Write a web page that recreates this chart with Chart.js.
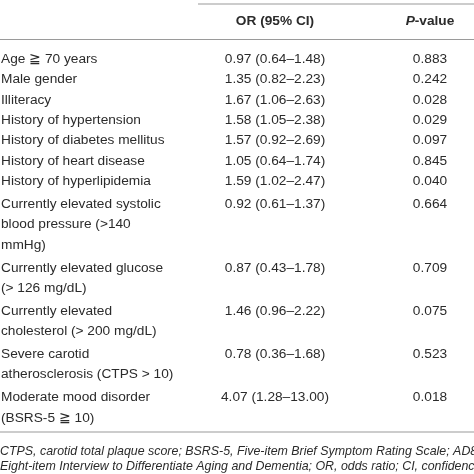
<!DOCTYPE html>
<html><head><meta charset="utf-8">
<script src="https://cdn.jsdelivr.net/npm/chart.js@4"></script>
<style>html,body{margin:0;padding:0;background:#fff}#w{width:474px;height:474px}</style>
</head><body><div id="w"><canvas id="c"></canvas></div>
<script>
const variables = [
  ["Age \u2267 70 years"],
  ["Male gender"],
  ["Illiteracy"],
  ["History of hypertension"],
  ["History of diabetes mellitus"],
  ["History of heart disease"],
  ["History of hyperlipidemia"],
  ["Currently elevated systolic","blood pressure (>140","mmHg)"],
  ["Currently elevated glucose","(> 126 mg/dL)"],
  ["Currently elevated","cholesterol (> 200 mg/dL)"],
  ["Severe carotid","atherosclerosis (CTPS > 10)"],
  ["Moderate mood disorder","(BSRS-5 \u2267 10)"]
];
const orCI = ["0.97 (0.64\u20131.48)","1.35 (0.82\u20132.23)","1.67 (1.06\u20132.63)","1.58 (1.05\u20132.38)","1.57 (0.92\u20132.69)","1.05 (0.64\u20131.74)","1.59 (1.02\u20132.47)","0.92 (0.61\u20131.37)","0.87 (0.43\u20131.78)","1.46 (0.96\u20132.22)","0.78 (0.36\u20131.68)","4.07 (1.28\u201313.00)"];
const pValues = ["0.883","0.242","0.028","0.029","0.097","0.845","0.040","0.664","0.709","0.075","0.523","0.018"];
const headers = ["", "OR (95% CI)", "P-value"];
const footnotes = ["CTPS, carotid total plaque score; BSRS-5, Five-item Brief Symptom Rating Scale; AD8,","Eight-item Interview to Differentiate Aging and Dementia; OR, odds ratio; CI, confidence"];

const tablePlugin = {
  id: 'table',
  afterDraw(chart) {
    const ctx = chart.ctx, xs = chart.scales.x, ys = chart.scales.y;
    const X = v => xs.getPixelForValue(v), Y = v => ys.getPixelForValue(v);
    ctx.save();
    ctx.textBaseline = 'middle';
    ctx.fillStyle = '#2b2b2b';
    const F = '13.7px "Liberation Sans", Arial, sans-serif';
    ctx.strokeStyle = '#9a9a9a'; ctx.lineWidth = 1.2;
    const rule = (x0, x1, y) => { ctx.beginPath(); ctx.moveTo(X(x0), Y(y)); ctx.lineTo(X(x1), Y(y)); ctx.stroke(); };
    rule(198, 474, 4); rule(0, 474, 39.5); rule(0, 474, 432);
    ctx.font = 'bold ' + F; ctx.textAlign = 'center';
    ctx.fillText(headers[1], X(275), Y(21));
    ctx.font = 'italic bold ' + F;
    const pw = ctx.measureText('P').width;
    ctx.font = 'bold ' + F;
    const rw = ctx.measureText('-value').width;
    const sx = X(430) - (pw + rw) / 2;
    ctx.textAlign = 'left';
    ctx.font = 'italic bold ' + F; ctx.fillText('P', sx, Y(21));
    ctx.font = 'bold ' + F; ctx.fillText('-value', sx + pw, Y(21));
    ctx.font = F;
    let y = 59;
    variables.forEach((lines, i) => {
      ctx.textAlign = 'left';
      lines.forEach((t, k) => ctx.fillText(t, X(1), Y(y + k * 20.4)));
      ctx.textAlign = 'center';
      ctx.fillText(orCI[i], X(275), Y(y));
      ctx.fillText(pValues[i], X(430), Y(y));
      y += lines.length * 20.4 + (lines.length > 1 || (i + 1 < variables.length && variables[i + 1].length > 1) ? 2.4 : 0);
    });
    ctx.font = 'italic 12.4px "Liberation Sans", Arial, sans-serif';
    ctx.textAlign = 'left';
    ctx.fillText(footnotes[0], X(0), Y(452));
    ctx.fillText(footnotes[1], X(0), Y(467));
    ctx.restore();
  }
};

new Chart(document.getElementById('c'), {
  type: 'scatter',
  data: { datasets: [{ data: [] }] },
  options: {
    responsive: true, maintainAspectRatio: false, animation: false,
    layout: { padding: 0 },
    plugins: { legend: { display: false }, tooltip: { enabled: false } },
    scales: {
      x: { type: 'linear', min: 0, max: 474, display: false },
      y: { type: 'linear', min: 0, max: 474, reverse: true, display: false }
    }
  },
  plugins: [tablePlugin]
});
</script></body></html>
